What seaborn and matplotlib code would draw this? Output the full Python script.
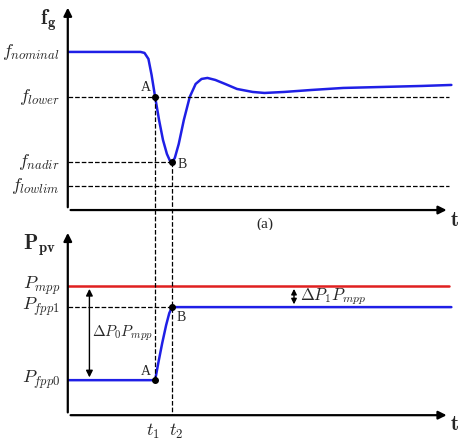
import matplotlib
matplotlib.use("Agg")
import matplotlib.pyplot as plt
import seaborn as sns
from matplotlib.lines import Line2D

sns.set_theme(style="white")
plt.rcParams['font.family'] = ['Liberation Serif', 'DejaVu Serif']
plt.rcParams['mathtext.fontset'] = 'cm'

# frequency response (top panel)
f_t = [0, 1.85, 1.95, 2.05, 2.13, 2.22, 2.32, 2.42, 2.52, 2.6, 2.65, 2.72, 2.82, 2.95, 3.1, 3.25, 3.4, 3.55,
       3.75, 4.0, 4.3, 4.7, 5.0, 5.5, 6.2, 7.0, 8.0, 9.0, 9.75]
f_val = [158, 158, 157, 151, 135, 113, 90, 70, 56, 49, 48, 52, 66, 90, 113, 126, 131, 132,
         130, 126, 121, 118, 117, 118, 120, 122, 123, 124, 125]
f_levels = {"nominal": 158, "lower": 113, "nadir": 48, "lowlim": 24}

# pv power (bottom panel)
p_t = [0, 2.22, 2.3, 2.4, 2.5, 2.58, 2.65, 9.75]
p_val = [35, 35, 52, 72, 90, 102, 108, 108]
p_mpp = 129
p_fpp0 = 35
p_fpp1 = 108
t1, t2 = 2.22, 2.65

fig = plt.figure(figsize=(4.74, 4.45), dpi=100)
ax1 = fig.add_axes([0.143, 0.528, 0.83, 0.461])
ax2 = fig.add_axes([0.143, 0.067, 0.83, 0.416])
ax1.set(xlim=(0, 10), ylim=(0, 205))
ax2.set(xlim=(0, 10), ylim=(0, 185))

for ax in (ax1, ax2):
    for s in ax.spines.values():
        s.set_visible(False)
    ax.set_xticks([]); ax.set_yticks([])
    ax.annotate("", xy=(0.97, 0), xytext=(0, 0), xycoords="axes fraction",
                arrowprops=dict(arrowstyle="-|>", color="black", lw=1.6))
    ax.annotate("", xy=(0, 1.0), xytext=(0, 0), xycoords="axes fraction",
                arrowprops=dict(arrowstyle="-|>", color="black", lw=1.6))
    ax.text(0.995, -0.055, "$\\mathbf{t}$", transform=ax.transAxes, fontsize=15,
            ha="right", va="center", style="italic")

dash = dict(color="black", ls="--", lw=0.9)
sns.lineplot(x=f_t, y=f_val, ax=ax1, color="#1f1fe6", lw=1.8, sort=False)
ax1.axhline(f_levels["lower"], xmax=0.97, **dash)
ax1.axhline(f_levels["lowlim"], xmax=0.97, **dash)
ax1.plot([0, t2], [f_levels["nadir"]] * 2, **dash)
ax1.plot([t1], [f_levels["lower"]], "o", color="black", ms=4)
ax1.plot([t2], [f_levels["nadir"]], "o", color="black", ms=4)
ax1.text(t1 - 0.1, f_levels["lower"] + 3, "A", ha="right", va="bottom", fontsize=10)
ax1.text(t2 + 0.15, f_levels["nadir"] - 2, "B", ha="left", va="center", fontsize=10)
labels = {"nominal": "$f_{nominal}$", "lower": "$f_{lower}$", "nadir": "$f_{nadir}$", "lowlim": "$f_{lowlim}$"}
for k, lab in labels.items():
    ax1.text(-0.02, f_levels[k], lab, transform=ax1.get_yaxis_transform(), ha="right", va="center", fontsize=13)
ax1.text(-0.03, 0.99, "$\\mathbf{f_g}$", transform=ax1.transAxes, ha="right", va="top", fontsize=15)
ax1.text(0.5, -0.07, "(a)", transform=ax1.transAxes, ha="center", va="center", fontsize=11)

sns.lineplot(x=p_t, y=p_val, ax=ax2, color="#1f1fe6", lw=1.8, sort=False)
ax2.axhline(p_mpp, xmax=0.97, color="#e02020", lw=1.8)
ax2.plot([0, t2], [p_fpp1] * 2, **dash)
ax2.plot([t1], [p_fpp0], "o", color="black", ms=4)
ax2.plot([t2], [p_fpp1], "o", color="black", ms=4)
ax2.text(t1 - 0.12, p_fpp0 + 2, "A", ha="right", va="bottom", fontsize=10)
ax2.text(t2 + 0.12, p_fpp1 - 4, "B", ha="left", va="top", fontsize=10)
for y, lab in [(p_mpp, "$P_{mpp}$"), (p_fpp1, "$P_{fpp1}$"), (p_fpp0, "$P_{fpp0}$")]:
    ax2.text(-0.02, y, lab, transform=ax2.get_yaxis_transform(), ha="right", va="center", fontsize=13)
ax2.text(-0.03, 0.99, "$\\mathbf{P_{pv}}$", transform=ax2.transAxes, ha="right", va="top", fontsize=15)
ax2.annotate("", xy=(0.55, p_mpp), xytext=(0.55, p_fpp0),
             arrowprops=dict(arrowstyle="<|-|>", color="black", lw=1, mutation_scale=10))
ax2.text(0.62, (p_mpp + p_fpp0) / 2, "$\\Delta P_0 P_{mpp}$", ha="left", va="center", fontsize=11)
ax2.annotate("", xy=(5.75, p_mpp), xytext=(5.75, p_fpp1),
             arrowprops=dict(arrowstyle="<|-|>", color="black", lw=1, mutation_scale=8))
ax2.text(5.9, (p_mpp + p_fpp1) / 2, "$\\Delta P_1 P_{mpp}$", ha="left", va="center", fontsize=12)
ax2.text(t1 - 0.05, -0.09, "$t_1$", transform=ax2.get_xaxis_transform(), ha="center", va="center", fontsize=13)
ax2.text(t2 + 0.1, -0.09, "$t_2$", transform=ax2.get_xaxis_transform(), ha="center", va="center", fontsize=13)

# vertical dashed guides across both panels
inv = fig.transFigure.inverted()
for t, ytop, ybot in [(t1, f_levels["lower"], p_fpp0), (t2, f_levels["nadir"], 0)]:
    p1 = inv.transform(ax1.transData.transform((t, ytop)))
    p2 = inv.transform(ax2.transData.transform((t, ybot)))
    fig.add_artist(Line2D([p1[0], p2[0]], [p1[1], p2[1]], transform=fig.transFigure, **dash))

fig.savefig("out.png", dpi=100)
